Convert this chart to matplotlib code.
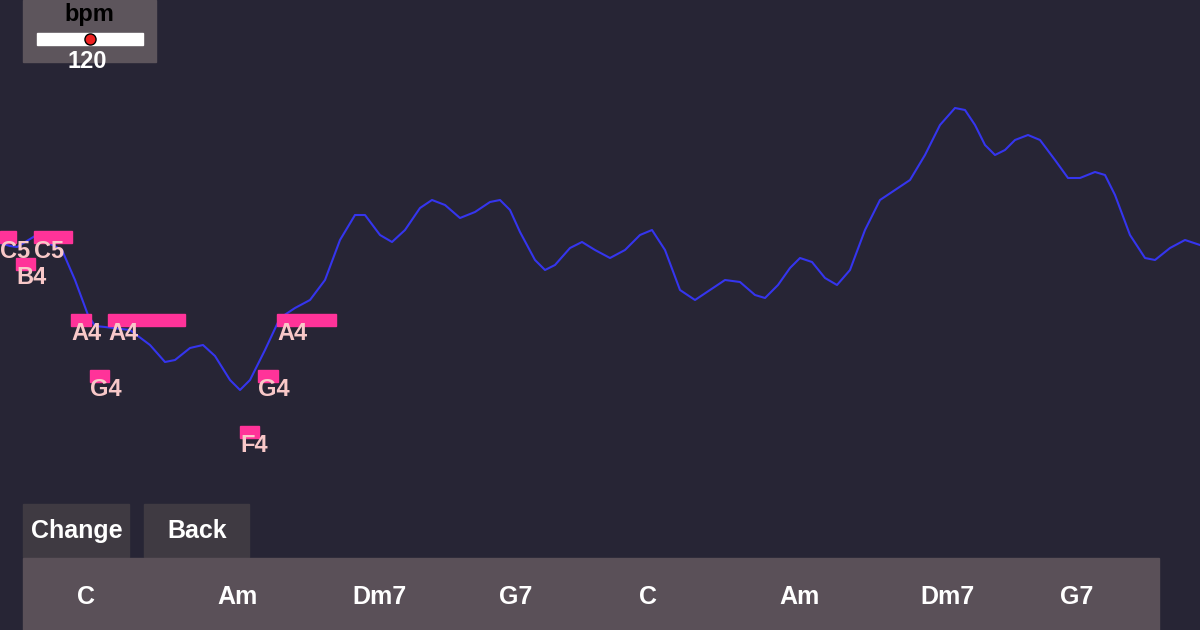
import matplotlib
matplotlib.use("Agg")
import matplotlib.pyplot as plt
from matplotlib.patches import Rectangle

plt.rcParams['font.family'] = ['Liberation Sans', 'DejaVu Sans']

# melody line (pixel x, pixel y)
line_x = [0, 10, 17, 35, 62, 75, 88, 95, 105, 130, 150, 165, 175, 190, 203, 215, 230, 240, 250, 265,
          280, 295, 310, 325, 340, 355, 365, 380, 392, 405, 420, 432, 445, 460, 475, 490, 500, 510, 520,
          535, 545, 555, 570, 582, 595, 610, 625, 640, 652, 665, 680, 695, 710, 725, 740, 755, 765, 778,
          790, 800, 812, 825, 837, 850, 865, 880, 895, 910, 925, 940, 955, 965, 975, 985, 995, 1005, 1015,
          1028, 1040, 1055, 1068, 1080, 1095, 1105, 1115, 1130, 1145, 1155, 1170, 1185, 1200]
line_y = [243, 246, 247, 236, 250, 280, 315, 326, 327, 330, 345, 362, 360, 348, 345, 356, 380, 390, 380, 350,
          318, 308, 300, 280, 240, 215, 215, 235, 242, 230, 208, 200, 205, 218, 212, 202, 200, 210, 232,
          260, 270, 265, 248, 242, 250, 258, 250, 235, 230, 250, 290, 300, 290, 280, 282, 295, 298, 285,
          268, 258, 262, 278, 285, 270, 230, 200, 190, 180, 155, 125, 108, 110, 125, 145, 155, 150, 140,
          135, 140, 160, 178, 178, 172, 175, 195, 235, 258, 260, 248, 240, 245]

note_names = ["C5", "C5", "B4", "A4", "A4", "G4", "F4", "G4", "A4"]
note_x = [0, 34, 16, 71, 108, 90, 240, 258, 277]
note_w = [16, 38, 19, 20, 77, 19, 19, 20, 59]
note_y = [231, 231, 258, 314, 314, 370, 426, 370, 314]

chords = ["C", "Am", "Dm7", "G7", "C", "Am", "Dm7", "G7"]
chord_x = [86, 238, 379, 516, 648, 800, 947, 1077]
bpm = 120

fig = plt.figure(figsize=(12, 6.3), dpi=100)
fig.patch.set_facecolor("#272535")
ax = fig.add_axes([0, 0, 1, 1])
ax.set_xlim(0, 1200)
ax.set_ylim(630, 0)
ax.axis("off")

ax.plot(line_x, line_y, color="#3535ee", lw=1.5, zorder=2, solid_joinstyle="round")

for n, x, w, y in zip(note_names, note_x, note_w, note_y):
    ax.add_patch(Rectangle((x, y), w, 12, color="#ff3399", zorder=3))
    ax.text(x, y + 20, n, color="#f8c8c8", fontsize=17, fontweight="bold",
            ha="left", va="center", zorder=4)

# bpm widget
ax.add_patch(Rectangle((23, 0), 133, 62, color="#5d555c", zorder=1))
ax.add_patch(Rectangle((37, 33), 106, 12, color="white", zorder=2))
ax.plot([90], [39], "o", color="#ee2222", mec="black", ms=8, zorder=3)
ax.text(89, 15, "bpm", color="black", fontsize=17, fontweight="bold", ha="center", va="center")
ax.text(87, 61, str(bpm), color="white", fontsize=17, fontweight="bold", ha="center", va="center")

# buttons
for label, x0, x1 in [("Change", 23, 129), ("Back", 144, 249)]:
    ax.add_patch(Rectangle((x0, 504), x1 - x0, 53, color="#3f3a42", zorder=1))
    ax.text((x0 + x1) / 2 + 1, 531, label, color="white", fontsize=18, fontweight="bold",
            ha="center", va="center")

ax.add_patch(Rectangle((23, 558), 1136, 72, color="#5a5058", zorder=1))
for c, x in zip(chords, chord_x):
    ax.text(x, 597, c, color="white", fontsize=18, fontweight="bold", ha="center", va="center")

fig.savefig("out.png", dpi=100, facecolor=fig.get_facecolor())
